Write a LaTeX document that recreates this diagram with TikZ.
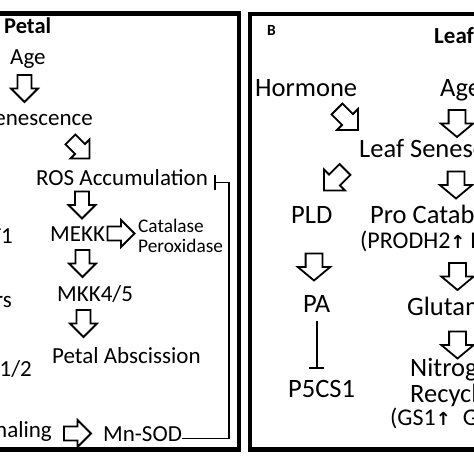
\documentclass[tikz,border=0pt]{standalone}
\usepackage{fontspec}
\setmainfont{Carlito}
\newfontfamily\arrowfont{DejaVu Sans}
\usetikzlibrary{arrows.meta}
\newcommand{\uparr}{{\arrowfont\bfseries\fontsize{18}{18}\selectfont ↑}}
\begin{document}
\begin{tikzpicture}[x=1pt,y=1pt,
  txt/.style={inner sep=0pt, anchor=base west, font=\fontsize{23}{26}\selectfont},
  txtE/.style={txt, anchor=base east},
  txtB/.style={txt, font=\fontsize{26.5}{30}\selectfont},
  txtS/.style={txt, font=\fontsize{19.3}{22}\selectfont},
  txtR/.style={txt, font=\fontsize{24}{26}\selectfont},
  title/.style={txt, font=\fontsize{22.5}{26}\selectfont\bfseries},
  panel/.style={draw=black, line width=4.5pt},
  blkline/.style={draw=black, line width=1.8pt, line join=miter, fill=white},
  inh/.style={draw=black, line width=1.6pt},
  blk/.pic={\draw[blkline] (-7,13.5) -- (7,13.5) -- (7,0) -- (13.5,0) -- (0,-13.5) -- (-13.5,0) -- (-7,0) -- cycle;}
]
\useasboundingbox (0,0) rectangle (474,-474);
\clip (0,0) rectangle (474,-474);
\fill[white] (0,0) rectangle (474,-474);

% panels
\draw[panel] (-20,-13.5) rectangle (239,-449.5);
\draw[panel] (250,-14) rectangle (500,-449.5);

% ---------- left panel (Petal) ----------
\node[title] (petal) at (4,-33) {Petal};
\node[txt] (age1) at (10,-64) {Age};
\node[txtE] (sen1) at (93,-125) {Senescence};
\node[txt] (ros) at (36,-185) {ROS Accumulation};
\node[txt] (mekk) at (50,-241) {MEKK};
\node[txtS] (cat) at (138,-232) {Catalase};
\node[txtS] (perox) at (138,-252) {Peroxidase};
\node[txt] (mkk) at (57,-301) {MKK4/5};
\node[txt] (abs) at (52,-363) {Petal Abscission};
\node[txtE] (sig) at (52,-437) {Signaling};
\node[txt] (sod) at (103,-441) {Mn-SOD};
\node[txtE] (frag1) at (13,-243) {T1};
\node[txtE] (frag2) at (12,-307) {rs};
\node[txtE] (frag3) at (32,-376) {1/2};

\pic at (24.5,-88.5) {blk};
\pic[rotate=45] at (80,-149) {blk};
\pic at (82,-205) {blk};
\pic[rotate=90] at (121,-233.5) {blk};
\pic at (82.5,-263.5) {blk};
\pic at (83.5,-323.5) {blk};
\pic[rotate=90] at (77.5,-433.5) {blk};

\draw[inh, -{Bar[width=15pt,line width=1.6pt]}, shorten >=6pt]
  (sod.mid east) -- ++(47,0) |- (ros.mid east);

% ---------- right panel (Leaf) ----------
\node[txt, font=\fontsize{15.5}{18}\selectfont\bfseries] (B) at (267,-35) {B};
\node[title, font=\fontsize{23}{26}\selectfont\bfseries] (leaf) at (434,-43) {Leaf};
\node[txtB] (horm) at (255,-96) {Hormone};
\node[txtB] (age2) at (440,-96) {Age};
\node[txtB] (lsen) at (359,-157) {Leaf Senescence};
\node[txtB] (pld) at (291,-223) {PLD};
\node[txtB] (procat) at (370,-223) {Pro Catabolism};
\node[txtR] (prodh) at (360,-248) {(PRODH2\uparr\hspace{0.2em}P};
\node[txtB] (pa) at (303,-312) {PA};
\node[txtB] (glut) at (407,-315) {Glutamate};
\node[txtB] (p5cs) at (288,-397) {P5CS1};
\node[txtB] (nitro) at (410,-376) {Nitrogen};
\node[txtB] (recyc) at (410,-402) {Recycling};
\node[txtR] (gs) at (390,-425) {(GS1\uparr\hspace{0.5em}G};

\pic[rotate=45, scale=1.1] at (347.5,-119.5) {blk};
\pic[xscale=1.2] at (457,-123.5) {blk};
\pic[rotate=-45, scale=1.1] at (334.5,-180) {blk};
\pic[xscale=1.2] at (456,-185) {blk};
\pic[xscale=1.2] at (314,-267) {blk};
\pic[xscale=1.2] at (457.5,-276.5) {blk};
\pic[xscale=1.2] at (457.5,-345) {blk};

\draw[inh, -{Bar[width=15pt,line width=1.6pt]}]
  ([yshift=-9pt]pa.base) -- ([yshift=28pt]pa.base |- p5cs.base);
\end{tikzpicture}
\end{document}
